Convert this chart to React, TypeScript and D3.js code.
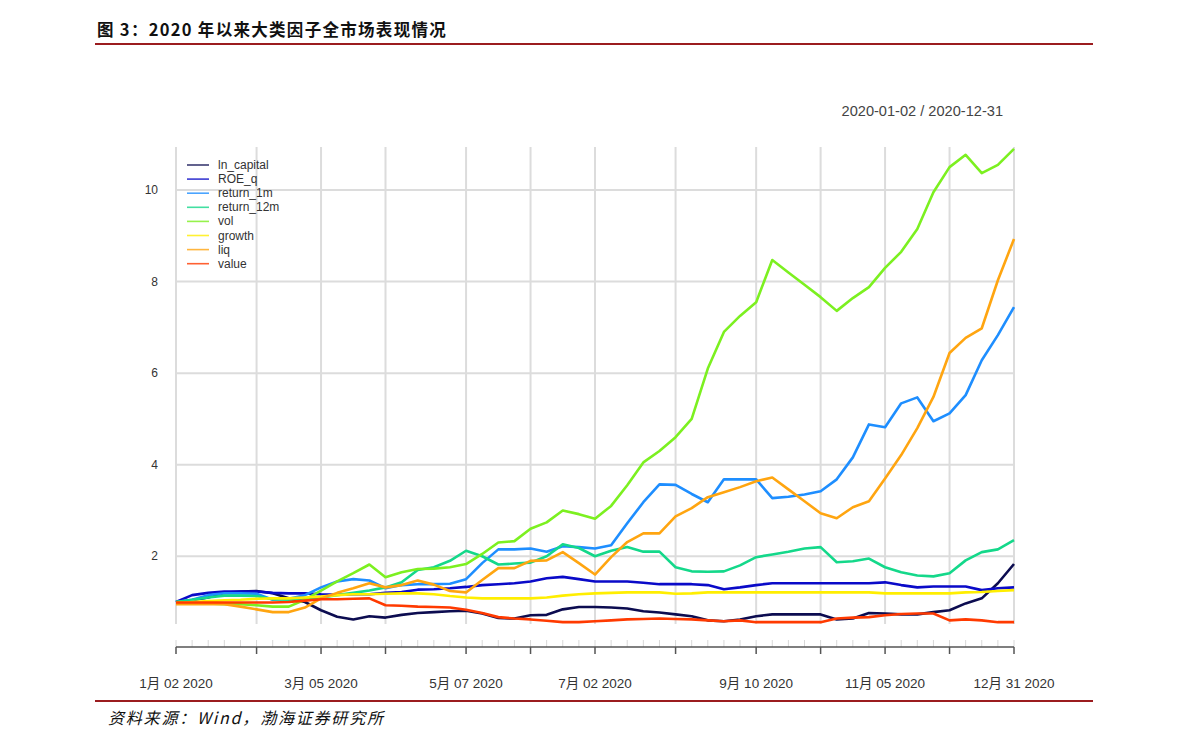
import * as React from 'react';
import * as d3 from 'd3';

// weekly observations (Thursdays), 2020
const weeks = [
    '01-02', '01-09', '01-16', '01-23', '01-30', '02-06', '02-13', '02-20', '02-27',
    '03-05', '03-12', '03-19', '03-26', '04-02', '04-09', '04-16', '04-23', '04-30',
    '05-07', '05-14', '05-21', '05-28', '06-04', '06-11', '06-18', '06-25',
    '07-02', '07-09', '07-16', '07-23', '07-30', '08-06', '08-13', '08-20', '08-27',
    '09-03', '09-10', '09-17', '09-24', '10-01', '10-08', '10-15', '10-22', '10-29',
    '11-05', '11-12', '11-19', '11-26', '12-03', '12-10', '12-17', '12-24', '12-31'
];

const majorTicks = [0, 5, 9, 13, 18, 22, 26, 31, 36, 40, 44, 48, 52];
const labelTicks = [0, 9, 18, 26, 36, 44, 52];
const labelTexts = ['1月 02 2020', '3月 05 2020', '5月 07 2020', '7月 02 2020', '9月 10 2020', '11月 05 2020', '12月 31 2020'];
const yTicks = [2, 4, 6, 8, 10];

const seriesNames = ['ln_capital', 'ROE_q', 'return_1m', 'return_12m', 'vol', 'growth', 'liq', 'value'];
const seriesColors = ['#0c0c50', '#0a0ac8', '#1e8eff', '#14d88a', '#7cf020', '#ffee00', '#ffa510', '#ff3a00'];

const lnCapital = [0.99, 1.04, 1.1, 1.2, 1.23, 1.24, 1.19, 1.08, 1.0, 0.82, 0.68, 0.62, 0.69, 0.66, 0.72, 0.76, 0.78, 0.8,
    0.81, 0.75, 0.65, 0.64, 0.71, 0.72, 0.84, 0.89, 0.89, 0.88, 0.86, 0.8, 0.77, 0.73, 0.69, 0.6, 0.58, 0.62,
    0.69, 0.73, 0.73, 0.73, 0.73, 0.62, 0.64, 0.76, 0.75, 0.73, 0.73, 0.78, 0.82, 0.97, 1.08, 1.41, 1.83];
const roeQ = [1.0, 1.15, 1.2, 1.23, 1.23, 1.23, 1.2, 1.19, 1.19, 1.17, 1.16, 1.17, 1.17, 1.2, 1.22, 1.27, 1.28, 1.3,
    1.33, 1.37, 1.39, 1.41, 1.45, 1.52, 1.55, 1.5, 1.45, 1.45, 1.45, 1.42, 1.39, 1.39, 1.39, 1.37, 1.28, 1.32,
    1.37, 1.41, 1.41, 1.41, 1.41, 1.41, 1.41, 1.41, 1.43, 1.37, 1.32, 1.34, 1.34, 1.34, 1.26, 1.3, 1.32];
const return1m = [1.0, 1.05, 1.15, 1.19, 1.19, 1.18, 1.05, 1.07, 1.15, 1.32, 1.45, 1.5, 1.47, 1.3, 1.37, 1.39, 1.39, 1.4,
    1.5, 1.85, 2.15, 2.15, 2.17, 2.1, 2.22, 2.2, 2.17, 2.24, 2.72, 3.18, 3.57, 3.56, 3.36, 3.18, 3.68, 3.68,
    3.68, 3.27, 3.3, 3.35, 3.42, 3.68, 4.16, 4.88, 4.82, 5.34, 5.47, 4.95, 5.12, 5.52, 6.28, 6.83, 7.44];
const return12m = [1.0, 1.05, 1.1, 1.14, 1.14, 1.13, 1.06, 1.05, 1.08, 1.1, 1.15, 1.2, 1.25, 1.32, 1.43, 1.7, 1.76, 1.9,
    2.12, 2.0, 1.82, 1.84, 1.86, 2.0, 2.26, 2.18, 2.0, 2.12, 2.2, 2.1, 2.1, 1.76, 1.67, 1.66, 1.67, 1.8,
    1.98, 2.04, 2.1, 2.17, 2.2, 1.87, 1.89, 1.95, 1.76, 1.65, 1.58, 1.56, 1.63, 1.91, 2.09, 2.15, 2.35];
const vol = [1.0, 0.99, 0.97, 0.95, 0.95, 0.93, 0.9, 0.9, 1.05, 1.25, 1.45, 1.63, 1.82, 1.54, 1.65, 1.72, 1.73, 1.76,
    1.83, 2.05, 2.3, 2.33, 2.6, 2.74, 3.0, 2.92, 2.82, 3.1, 3.55, 4.05, 4.3, 4.6, 5.0, 6.1, 6.9, 7.25,
    7.55, 8.47, 8.2, 7.93, 7.66, 7.36, 7.64, 7.88, 8.3, 8.65, 9.15, 9.95, 10.5, 10.77, 10.37, 10.55, 10.9];
const growth = [0.97, 1.0, 1.02, 1.04, 1.05, 1.07, 1.08, 1.08, 1.1, 1.12, 1.15, 1.17, 1.17, 1.18, 1.19, 1.19, 1.17, 1.13,
    1.1, 1.08, 1.08, 1.08, 1.08, 1.1, 1.14, 1.17, 1.19, 1.2, 1.21, 1.21, 1.21, 1.18, 1.19, 1.21, 1.21, 1.21,
    1.21, 1.21, 1.21, 1.21, 1.21, 1.21, 1.21, 1.21, 1.19, 1.19, 1.19, 1.19, 1.19, 1.21, 1.22, 1.24, 1.26];
const liq = [0.95, 0.95, 0.96, 0.95, 0.9, 0.84, 0.78, 0.78, 0.88, 1.08, 1.2, 1.3, 1.41, 1.32, 1.37, 1.47, 1.38, 1.24,
    1.21, 1.48, 1.74, 1.74, 1.9, 1.91, 2.09, 1.85, 1.6, 1.98, 2.31, 2.5, 2.5, 2.87, 3.05, 3.29, 3.4, 3.51,
    3.64, 3.72, 3.46, 3.2, 2.94, 2.83, 3.07, 3.2, 3.7, 4.21, 4.8, 5.48, 6.44, 6.77, 6.98, 8.03, 8.93];
const value = [0.99, 0.99, 0.99, 0.99, 0.99, 0.99, 0.99, 1.0, 1.03, 1.06, 1.06, 1.07, 1.08, 0.93, 0.92, 0.9, 0.89, 0.88,
    0.83, 0.76, 0.67, 0.64, 0.62, 0.59, 0.56, 0.56, 0.58, 0.6, 0.62, 0.63, 0.64, 0.63, 0.62, 0.6, 0.58, 0.6,
    0.56, 0.56, 0.56, 0.56, 0.56, 0.64, 0.66, 0.67, 0.71, 0.74, 0.75, 0.75, 0.6, 0.62, 0.6, 0.56, 0.56];

const seriesValues = [lnCapital, roeQ, return1m, return12m, vol, growth, liq, value];

const width = 1191;
const height = 748;
const plot = { left: 176, right: 1014, top: 147, bottom: 624 };
const axisY = 647;
const sansFont = '"Liberation Sans", Arial, "Noto Sans CJK SC", sans-serif';
const gridColor = '#dcdcdc';
const ruleColor = '#9b1c1f';

class App extends React.Component<object, object> {
    private svgElement: SVGSVGElement | null = null;

    render() {
        return <svg
            ref={node => { this.svgElement = node; }}
            width={width}
            height={height}
            style={{ position: 'absolute', left: 0, top: 0, background: '#fff' }}>
        </svg>;
    }

    componentDidMount() {
        this.drawChart();
    }

    drawChart() {
        const svg = d3.select(this.svgElement);
        svg.selectAll('*').remove();

        const xScale = d3.scaleLinear().domain([0, weeks.length - 1]).range([plot.left, plot.right]);
        const yScale = d3.scaleLinear().domain([0.52, 10.94]).range([plot.bottom, plot.top]);

        // title and rules
        svg.append('text')
            .attr('x', 97).attr('y', 36)
            .style('font-family', '"Noto Sans CJK SC", serif')
            .style('font-weight', 'bold')
            .style('font-size', '16.5px')
            .style('letter-spacing', '1.3px')
            .style('fill', '#111')
            .text('图 3：2020 年以来大类因子全市场表现情况');
        svg.append('line')
            .attr('x1', 95).attr('x2', 1093).attr('y1', 44).attr('y2', 44)
            .style('stroke', ruleColor).style('stroke-width', 2);
        svg.append('line')
            .attr('x1', 95).attr('x2', 1093).attr('y1', 701).attr('y2', 701)
            .style('stroke', ruleColor).style('stroke-width', 2);
        svg.append('text')
            .attr('x', 108).attr('y', 724)
            .style('font-family', '"Noto Sans CJK SC", serif')
            .style('font-style', 'italic')
            .style('font-size', '16px')
            .style('letter-spacing', '1.8px')
            .style('fill', '#111')
            .text('资料来源：Wind，渤海证券研究所');

        svg.append('text')
            .attr('x', 1003).attr('y', 116)
            .attr('text-anchor', 'end')
            .style('font-family', sansFont)
            .style('font-size', '14.6px')
            .style('fill', '#444')
            .text(`2020-${weeks[0]} / 2020-${weeks[weeks.length - 1]}`);

        // grid
        const grid = svg.append('g').classed('grid', true);
        grid.selectAll('line.h')
            .data(yTicks)
            .enter()
            .append('line')
            .attr('x1', plot.left).attr('x2', plot.right)
            .attr('y1', d => yScale(d)).attr('y2', d => yScale(d))
            .style('stroke', gridColor).style('stroke-width', 2);
        grid.selectAll('line.v')
            .data(majorTicks)
            .enter()
            .append('line')
            .attr('x1', d => xScale(d)).attr('x2', d => xScale(d))
            .attr('y1', plot.top).attr('y2', plot.bottom)
            .style('stroke', gridColor).style('stroke-width', 2);

        svg.append('g')
            .selectAll('text')
            .data(yTicks)
            .enter()
            .append('text')
            .attr('x', 158)
            .attr('y', d => yScale(d) + 4)
            .attr('text-anchor', 'end')
            .style('font-family', sansFont)
            .style('font-size', '12px')
            .style('fill', '#333')
            .text(d => d);

        // x axis
        const axisGroup = svg.append('g').classed('x axis', true);
        axisGroup.selectAll('line.minor')
            .data(weeks.map((d, i) => i))
            .enter()
            .append('line')
            .attr('x1', d => xScale(d)).attr('x2', d => xScale(d))
            .attr('y1', axisY - 7).attr('y2', axisY)
            .style('stroke', '#d8d8d8').style('stroke-width', 1);
        axisGroup.append('line')
            .attr('x1', plot.left).attr('x2', plot.right)
            .attr('y1', axisY).attr('y2', axisY)
            .style('stroke', '#555').style('stroke-width', 1.5);
        axisGroup.selectAll('line.major')
            .data(majorTicks)
            .enter()
            .append('line')
            .attr('x1', d => xScale(d)).attr('x2', d => xScale(d))
            .attr('y1', axisY).attr('y2', axisY + 7)
            .style('stroke', '#555').style('stroke-width', 1.5);
        axisGroup.selectAll('text')
            .data(labelTicks)
            .enter()
            .append('text')
            .attr('x', d => xScale(d))
            .attr('y', 688)
            .attr('text-anchor', 'middle')
            .style('font-family', sansFont)
            .style('font-size', '13.5px')
            .style('fill', '#333')
            .text((d, i) => labelTexts[i]);

        // series
        const line = d3.line<number>()
            .x((d, i) => xScale(i))
            .y(d => yScale(d));
        svg.append('g')
            .selectAll('path')
            .data(seriesValues)
            .enter()
            .append('path')
            .attr('d', d => line(d))
            .style('fill', 'none')
            .style('stroke', (d, i) => seriesColors[i])
            .style('stroke-width', 2.6)
            .style('stroke-linejoin', 'round');

        // legend
        const legend = svg.append('g').attr('transform', 'translate(187,165)');
        const rows = legend.selectAll('g')
            .data(seriesNames)
            .enter()
            .append('g')
            .attr('transform', (d, i) => `translate(0,${i * 14.1})`);
        rows.append('line')
            .attr('x1', 0).attr('x2', 22).attr('y1', 0).attr('y2', 0)
            .style('stroke', (d, i) => seriesColors[i])
            .style('stroke-width', 1.6)
            .style('opacity', 0.8);
        rows.append('text')
            .attr('x', 31).attr('y', 4)
            .style('font-family', sansFont)
            .style('font-size', '12px')
            .style('fill', '#333')
            .text(d => d);
    }
}

export default App
